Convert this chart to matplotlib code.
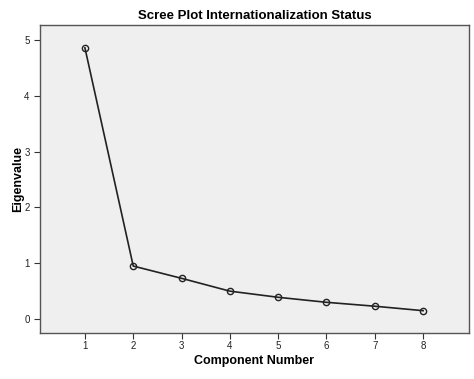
import matplotlib
matplotlib.use("Agg")
from matplotlib import pyplot as plt

components = [1, 2, 3, 4, 5, 6, 7, 8]
eigenvalues = [4.86, 0.95, 0.73, 0.50, 0.39, 0.30, 0.23, 0.15]
yticks = [0, 1, 2, 3, 4, 5]

plt.rcParams['font.family'] = ['Liberation Sans', 'DejaVu Sans']

fig = plt.figure(figsize=(4.74, 3.79), dpi=100)
ax = fig.add_axes([40/474, 1 - 333/379, 429/474, 308/379])
ax.set_facecolor('#efefef')

ax.plot(components, eigenvalues, color='#222222', lw=1.2,
        marker='o', ms=4.5, mfc='none', mec='#222222', mew=1.0)

ax.set_xlim(0.07, 8.95)
ax.set_ylim(-0.25, 5.27)
ax.set_xticks(components)
ax.set_yticks(yticks)
ax.tick_params(labelsize=7, length=4, width=0.8, color='#333333', labelcolor='#222222')
ax.tick_params(axis='x', pad=2)
for s in ax.spines.values():
    s.set_color('#555555')
    s.set_linewidth(1.0)

ax.set_title('Scree Plot Internationalization Status', fontsize=9.5, fontweight='bold', pad=4)
ax.set_xlabel('Component Number', fontsize=9, fontweight='bold', va='center')
ax.set_ylabel('Eigenvalue', fontsize=9, fontweight='bold', va='center')
ax.xaxis.set_label_coords(0.5, -0.091)
ax.yaxis.set_label_coords(-0.051, 0.5)

fig.savefig('out.png', dpi=100)
